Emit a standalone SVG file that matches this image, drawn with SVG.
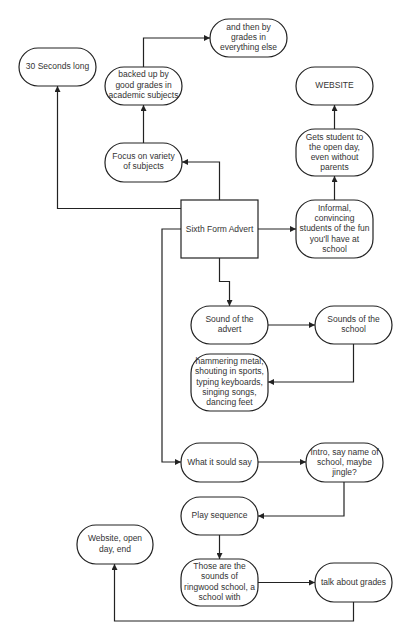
<svg xmlns="http://www.w3.org/2000/svg" width="411" height="640" viewBox="0 0 411 640">
<style>
.n{fill:#fff;stroke:#222;stroke-width:1.2}
.t{font-family:"Liberation Sans",Arial,sans-serif;font-size:8.5px;fill:#333;text-anchor:middle}
.c{fill:none;stroke:#222;stroke-width:1.2}
</style>
<defs>
<marker id="a" viewBox="0 0 10 10" refX="10" refY="5" markerWidth="7" markerHeight="6" markerUnits="userSpaceOnUse" orient="auto">
<path d="M0,0 L10,5 L0,10 z" fill="#222"/>
</marker>
</defs>
<rect width="411" height="640" fill="#fff"/>
<g id="connectors">
<path class="c" d="M143.5,67 V38 H210" marker-end="url(#a)"/>
<path class="c" d="M143.5,143 V105" marker-end="url(#a)"/>
<path class="c" d="M219.5,200 V162 H182" marker-end="url(#a)"/>
<path class="c" d="M181,208.5 H57.5 V86" marker-end="url(#a)"/>
<path class="c" d="M334.5,200 V176" marker-end="url(#a)"/>
<path class="c" d="M334.5,129 V105" marker-end="url(#a)"/>
<path class="c" d="M258,229 H296" marker-end="url(#a)"/>
<path class="c" d="M219.5,258 V281.5 H229.5 V306" marker-end="url(#a)"/>
<path class="c" d="M268,325 H315" marker-end="url(#a)"/>
<path class="c" d="M353.5,344 V382 H268" marker-end="url(#a)"/>
<path class="c" d="M181,229 H162 V462 H181" marker-end="url(#a)"/>
<path class="c" d="M258,462 H306" marker-end="url(#a)"/>
<path class="c" d="M344,482 V516 H258" marker-end="url(#a)"/>
<path class="c" d="M219.5,535 V559" marker-end="url(#a)"/>
<path class="c" d="M258,582.5 H315" marker-end="url(#a)"/>
<path class="c" d="M353.5,602 V621 H114.5 V564" marker-end="url(#a)"/>
</g>
<g id="n_andthen"><rect class="n" x="210" y="19" width="77" height="38" rx="19"/>
<text class="t" x="248.5" y="30">and then by</text><text class="t" x="248.5" y="40">grades in</text><text class="t" x="248.5" y="50">everything else</text></g>
<g id="n_30sec"><rect class="n" x="19" y="48" width="77" height="38" rx="19"/>
<text class="t" x="57.5" y="69">30 Seconds long</text></g>
<g id="n_backed"><rect class="n" x="105" y="67" width="77" height="38" rx="19"/>
<text class="t" x="143.5" y="77">backed up by</text><text class="t" x="143.5" y="87.5">good grades in</text><text class="t" x="143.5" y="98">academic subjects</text></g>
<g id="n_website"><rect class="n" x="296" y="67" width="77" height="38" rx="19"/>
<text class="t" x="334.5" y="88">WEBSITE</text></g>
<g id="n_gets"><rect class="n" x="296" y="129" width="77" height="47" rx="19"/>
<text class="t" x="334.5" y="139.5">Gets student to</text><text class="t" x="334.5" y="149.5">the open day,</text><text class="t" x="334.5" y="159.5">even without</text><text class="t" x="334.5" y="169.5">parents</text></g>
<g id="n_focus"><rect class="n" x="105" y="143" width="77" height="39" rx="19"/>
<text class="t" x="143.5" y="159">Focus on variety</text><text class="t" x="143.5" y="169">of subjects</text></g>
<g id="n_sixth"><rect class="n" x="181" y="200" width="77" height="58"/>
<text class="t" x="219.5" y="232">Sixth Form Advert</text></g>
<g id="n_informal"><rect class="n" x="296" y="200" width="77" height="58" rx="19"/>
<text class="t" x="334.5" y="210.5">Informal,</text><text class="t" x="334.5" y="221">convincing</text><text class="t" x="334.5" y="231">students of the fun</text><text class="t" x="334.5" y="241.5">you'll have at</text><text class="t" x="334.5" y="252">school</text></g>
<g id="n_soundadvert"><rect class="n" x="191" y="306" width="77" height="38" rx="19"/>
<text class="t" x="229.5" y="321.5">Sound of the</text><text class="t" x="229.5" y="331.5">advert</text></g>
<g id="n_soundschool"><rect class="n" x="315" y="306" width="77" height="38" rx="19"/>
<text class="t" x="353.5" y="321.5">Sounds of the</text><text class="t" x="353.5" y="331.5">school</text></g>
<g id="n_hammer"><rect class="n" x="191" y="354" width="77" height="57" rx="19"/>
<text class="t" x="229.5" y="364">hammering metal,</text><text class="t" x="229.5" y="374.3">shouting in sports,</text><text class="t" x="229.5" y="384.7">typing keyboards,</text><text class="t" x="229.5" y="395">singing songs,</text><text class="t" x="229.5" y="405">dancing feet</text></g>
<g id="n_what"><rect class="n" x="181" y="443" width="77" height="39" rx="19"/>
<text class="t" x="219.5" y="465">What it sould say</text></g>
<g id="n_intro"><rect class="n" x="306" y="443" width="77" height="39" rx="19"/>
<text class="t" x="344.5" y="454.5">Intro, say name of</text><text class="t" x="344.5" y="465">school, maybe</text><text class="t" x="344.5" y="475">jingle?</text></g>
<g id="n_play"><rect class="n" x="181" y="497" width="77" height="38" rx="19"/>
<text class="t" x="219.5" y="518">Play sequence</text></g>
<g id="n_website2"><rect class="n" x="77" y="525" width="76" height="39" rx="19"/>
<text class="t" x="115" y="541.3">Website, open</text><text class="t" x="115" y="551.5">day, end</text></g>
<g id="n_those"><rect class="n" x="181" y="559" width="77" height="47" rx="19"/>
<text class="t" x="219.5" y="569">Those are the</text><text class="t" x="219.5" y="579">sounds of</text><text class="t" x="219.5" y="589.5">ringwood school, a</text><text class="t" x="219.5" y="599.5">school with</text></g>
<g id="n_talk"><rect class="n" x="315" y="563" width="77" height="39" rx="19"/>
<text class="t" x="353.5" y="585">talk about grades</text></g>
</svg>
